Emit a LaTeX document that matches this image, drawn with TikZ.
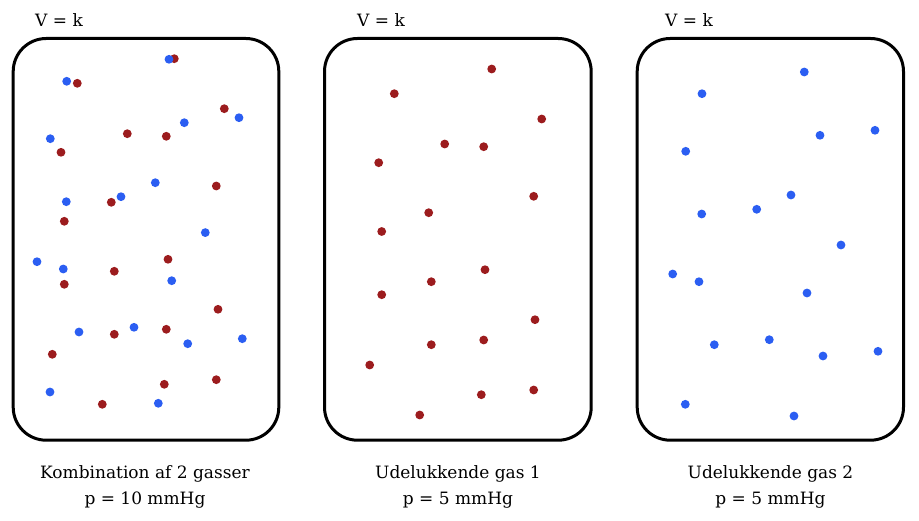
\documentclass[tikz,border=0pt]{standalone}
\usepackage{fontspec}
\setmainfont{DejaVu Serif}
\definecolor{gasred}{HTML}{9C1C1E}
\definecolor{gasblue}{HTML}{2B5EF2}
\begin{document}
\begin{tikzpicture}[x=1pt,y=-1pt,
  box/.style={draw=black,line width=3pt,rounded corners=33pt},
  lbl/.style={inner sep=0pt,font=\fontsize{17}{20}\selectfont},
  rdot/.style={fill=gasred},
  bdot/.style={fill=gasblue}]
\useasboundingbox[fill=white] (0,0) rectangle (919,521);
% boxes
\draw[box] (13.2,38.5) rectangle (278.8,440.2);
\draw[box] (324.5,38.5) rectangle (591.2,440.2);
\draw[box] (637.2,38.5) rectangle (903.5,440.2);
% labels
\node[lbl,anchor=base west] (v1) at (35,27) {V = k};
\node[lbl,anchor=base west] (v2) at (357,27) {V = k};
\node[lbl,anchor=base west] (v3) at (665,27) {V = k};
\node[lbl,anchor=base] (t1) at (145,478.5) {Kombination af 2 gasser};
\node[lbl,anchor=base] (p1) at (145,504) {p = 10 mmHg};
\node[lbl,anchor=base] (t2) at (458,478.5) {Udelukkende gas 1};
\node[lbl,anchor=base] (p2) at (458,504) {p = 5 mmHg};
\node[lbl,anchor=base] (t3) at (770.5,478.5) {Udelukkende gas 2};
\node[lbl,anchor=base] (p3) at (770.5,504) {p = 5 mmHg};
% box 1 dots
\def\r{4.4}
\foreach \x/\y in {174.3/58.7, 77.3/83.3, 224.3/108.7, 127.3/133.7, 166.3/136.3, 61/152.3,
  216.3/186, 111.3/202.3, 64.3/221.3, 168/259.3, 114.3/271.3, 64.3/284.3, 218/309.3,
  114.3/334.3, 166.3/329.3, 52.3/354.3, 216.3/379.7, 164.3/384.3, 102.3/404.3}
  \fill[rdot] (\x,\y) circle[radius=\r];
\foreach \x/\y in {169/59.3, 66.7/81.3, 239/117.7, 184.3/122.7, 50.3/138.7, 155.3/182.7,
  121/196.7, 66.3/201.7, 205.3/232.6, 37/261.7, 63.3/269, 171.7/280.7, 79/332, 134/327.3,
  187.7/343.7, 242.3/338.7, 50/392, 158.3/403.3}
  \fill[bdot] (\x,\y) circle[radius=\r];
% box 2 dots
\foreach \x/\y in {491.7/69, 394.3/93.7, 541.7/119, 444.7/144, 483.7/146.7, 378.7/162.7,
  533.7/196.3, 428.7/212.7, 381.7/231.5, 485/269.7, 431.3/281.7, 381.7/294.7, 535/319.7,
  483.7/340, 431.3/344.7, 369.7/365, 533.7/390, 481.3/394.7, 419.7/415}
  \fill[rdot] (\x,\y) circle[radius=\r];
% box 3 dots
\foreach \x/\y in {804.3/72, 702/93.7, 875/130.3, 820/135.3, 685.7/151.3, 791/195,
  756.7/209.3, 701.7/214, 841/245, 672.7/274, 699/281.7, 807/293, 714.3/344.7,
  769.3/339.7, 823/356, 878/351.3, 685.3/404.3, 794/416}
  \fill[bdot] (\x,\y) circle[radius=\r];
\end{tikzpicture}
\end{document}
